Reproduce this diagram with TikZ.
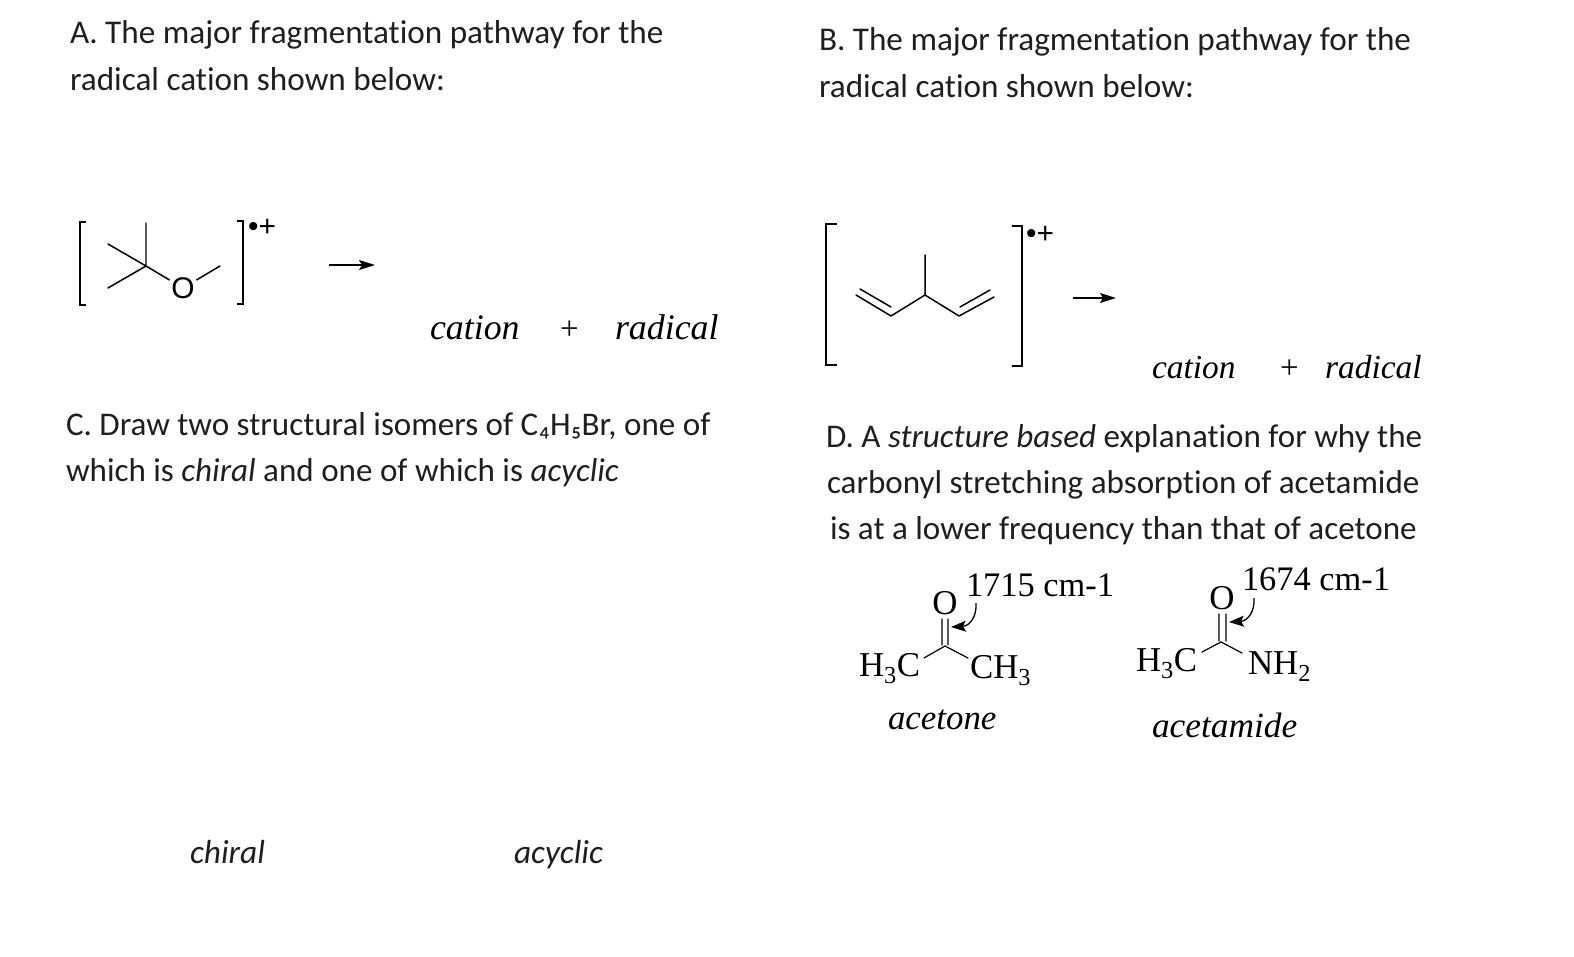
\documentclass[tikz,border=0pt]{standalone}
\usepackage{fontspec}
\setmainfont[Ligatures=CommonOff]{Carlito}
\newfontfamily\serifx{Liberation Serif}
\newfontfamily\sansx{Liberation Sans}
\usetikzlibrary{arrows.meta}
\tikzset{
  x=1bp,y=-1bp,
  every node/.style={inner sep=0pt,outer sep=0pt},
  prose/.style={anchor=base west,font=\fontsize{33.3}{36}\selectfont,text=black!88},
  proseb/.style={anchor=base west,font=\fontsize{33.2}{36}\selectfont,text=black!88},
  tag/.style={anchor=base west,font=\fontsize{33.5}{36}\selectfont\itshape,text=black!88},
  timesit/.style={anchor=base west,font=\serifx\itshape\fontsize{36}{40}\selectfont},
  timesitb/.style={anchor=base west,font=\serifx\itshape\fontsize{33.6}{40}\selectfont},
  chem/.style={anchor=base west,font=\serifx\fontsize{35}{38}\selectfont},
  freq/.style={anchor=base west,font=\serifx\fontsize{34.5}{38}\selectfont},
  atomO/.style={shape=circle,minimum size=32pt,font=\sansx\fontsize{30}{30}\selectfont},
  atomS/.style={shape=circle,minimum size=34pt,font=\serifx\fontsize{35}{38}\selectfont},
  charge/.style={font=\sansx\fontsize{30}{30}\selectfont},
  bond/.style={draw=black,line width=1.5pt,line cap=round,line join=round},
  bracket/.style={draw=black,line width=1.5pt,line join=miter},
  rxn/.style={draw=black,line width=1.3pt,-{Stealth[length=16pt,width=10pt,inset=3pt]}},
  hook/.style={draw=black,line width=1.3pt,-{Stealth[length=15pt,width=11pt,inset=3pt]}},
}
\begin{document}
\begin{tikzpicture}
\useasboundingbox[fill=white] (0,0) rectangle (1574,956);
% texts
\node[prose] (ta1) at (70,43) {A. The major fragmentation pathway for the};
\node[prose] (ta2) at (70,90) {radical cation shown below:};
\node[prose] (tb1) at (819,50) {B. The major fragmentation pathway for the};
\node[prose] (tb2) at (819,97) {radical cation shown below:};
\node[proseb] (tc1) at (66,435) {C. Draw two structural isomers of C₄H₅Br, one of};
\node[proseb] (tc2) at (66,481) {which is \textit{chiral} and one of which is \textit{acyclic}};
\node[proseb] (td1) at (826,447) {D. A \textit{structure based} explanation for why the};
\node[proseb] (td2) at (827,493) {carbonyl stretching absorption of acetamide};
\node[proseb] (td3) at (830,539) {is at a lower frequency than that of acetone};
\node[tag] (chiral) at (190,863) {chiral};
\node[tag] (acyclic) at (514,863) {acyclic};
\node[timesit] (ca) at (430,339) {cation};
\node[anchor=base west,font=\serifx\fontsize{33}{38}\selectfont] (pa) at (560,339) {+};
\node[timesit] (ra) at (615,339) {radical};
\node[timesitb] (cb) at (1152,378) {cation};
\node[anchor=base west,font=\serifx\fontsize{33}{38}\selectfont] (pb) at (1280,378) {+};
\node[timesitb] (rb) at (1325,378) {radical};
\node[timesitb,font=\serifx\itshape\fontsize{35}{40}\selectfont] (acetone) at (888,729) {acetone};
\node[timesitb,font=\serifx\itshape\fontsize{35.5}{40}\selectfont] (acetamide) at (1152,737) {acetamide};
% A
\coordinate (ac) at (146,266);
\coordinate (am1) at (146,223);
\coordinate (am2) at (108,244);
\coordinate (am3) at (108,288);
\coordinate (am4) at (220,266);
\node[atomO] (ao) at (183,288) {O};
\draw[bond] (ac)--(am1) (ac)--(am2) (ac)--(am3) (ac)--(ao) (ao)--(am4);
\draw[bracket] (86,222)-|(80,305)--(86,305);
\draw[bracket] (237,221)-|(243,304)--(237,304);
\node[charge] (qa) at (262,228) {•+};
\coordinate (aa1) at (329,265); \coordinate (aa2) at (375,265);
\draw[rxn] (aa1)--(aa2);
% B
\coordinate (bc) at (925,295);
\coordinate (bm) at (925,255);
\coordinate (bl) at (891,316);
\coordinate (br) at (959,316);
\coordinate (bl1) at (856,295);
\coordinate (bl2) at (860,289);
\coordinate (bl3) at (891,307);
\coordinate (br1) at (994,297);
\coordinate (br2) at (990,290);
\coordinate (br3) at (960,307);
\draw[bond] (bm)--(bc) (bl1)--(bl)--(bc)--(br)--(br1) (bl2)--(bl3) (br2)--(br3);
\draw[bracket] (837,224)-|(826,365)--(837,365);
\draw[bracket] (1012,226)-|(1022,366)--(1012,366);
\node[charge] (qb) at (1040,235) {•+};
\coordinate (ba1) at (1073,298); \coordinate (ba2) at (1116,298);
\draw[rxn] (ba1)--(ba2);
% acetone
\node[atomS] (o1) at (945,603) {O};
\coordinate (c1) at (945,646);
\coordinate (c1a) at (942,619); \coordinate (c1b) at (942,645);
\coordinate (c1c) at (948,619); \coordinate (c1d) at (948,645);
\coordinate (c1l) at (924,658); \coordinate (c1r) at (968,658);
\draw[bond,line width=1.2pt] (c1a)--(c1b) (c1c)--(c1d) (c1l)--(c1)--(c1r);
\node[chem] (h1) at (859,676) {H\textsubscript{3}C};
\node[chem] (m1) at (970,678) {CH\textsubscript{3}};
\node[freq] (f1) at (966,596) {1715 cm-1};
\coordinate (s1) at (976,603); \coordinate (e1) at (951,627);
\draw[hook] (s1) .. controls (977,616) and (970,626) .. (e1);
% acetamide
\node[atomS] (o2) at (1222,598) {O};
\coordinate (c2) at (1221,642);
\coordinate (c2a) at (1219,614); \coordinate (c2b) at (1219,641);
\coordinate (c2c) at (1226,614); \coordinate (c2d) at (1226,641);
\coordinate (c2l) at (1202,652); \coordinate (c2r) at (1242,653);
\draw[bond,line width=1.2pt] (c2a)--(c2b) (c2c)--(c2d) (c2l)--(c2)--(c2r);
\node[chem] (h2) at (1136,671) {H\textsubscript{3}C};
\node[chem] (n2) at (1248,674) {NH\textsubscript{2}};
\node[freq] (f2) at (1242,590) {1674 cm-1};
\coordinate (s2) at (1254,598); \coordinate (e2) at (1229,622);
\draw[hook] (s2) .. controls (1255,611) and (1248,621) .. (e2);
\end{tikzpicture}
\end{document}
